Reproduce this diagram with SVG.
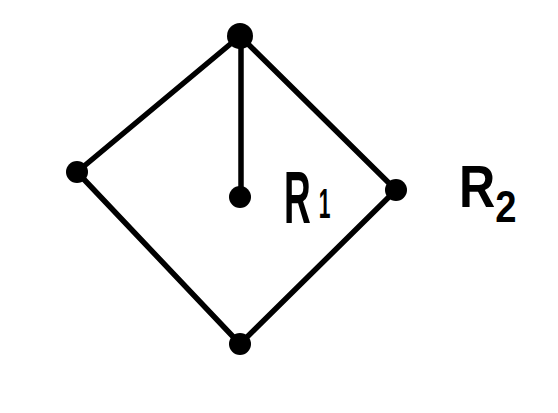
<svg xmlns="http://www.w3.org/2000/svg" width="558" height="413" viewBox="0 0 558 413">
<style>
.edge{stroke:#000;stroke-width:5.5;fill:none;stroke-linecap:round}
.dot{fill:#000}
.lbl{font-family:"Liberation Sans",Arial,sans-serif;font-weight:bold;fill:#000}
</style>
<rect width="558" height="413" fill="#fff"/>
<g id="connectors">
<line class="edge" x1="240" y1="36" x2="77" y2="172"/>
<line class="edge" x1="240" y1="36" x2="396" y2="190"/>
<line class="edge" x1="77" y1="172" x2="240" y2="344"/>
<line class="edge" x1="396" y1="190" x2="240" y2="344"/>
<line class="edge" x1="241" y1="36" x2="241" y2="196"/>
</g>
<g id="node-top"><circle class="dot" cx="240" cy="36" r="13"/></g>
<g id="node-left"><circle class="dot" cx="77" cy="172" r="11"/></g>
<g id="node-right"><circle class="dot" cx="396" cy="190" r="11"/></g>
<g id="node-bottom"><circle class="dot" cx="240" cy="344" r="11"/></g>
<g id="node-center"><circle class="dot" cx="240" cy="197" r="11"/></g>
<g id="label-R1"><text class="lbl" transform="translate(284,223) scale(0.5,1)" font-size="74">R<tspan font-size="42" dx="16" dy="-5">1</tspan></text></g>
<g id="label-R2"><text class="lbl" transform="translate(459,207) scale(0.85,1)" font-size="59">R<tspan font-size="45" dy="15">2</tspan></text></g>
</svg>
